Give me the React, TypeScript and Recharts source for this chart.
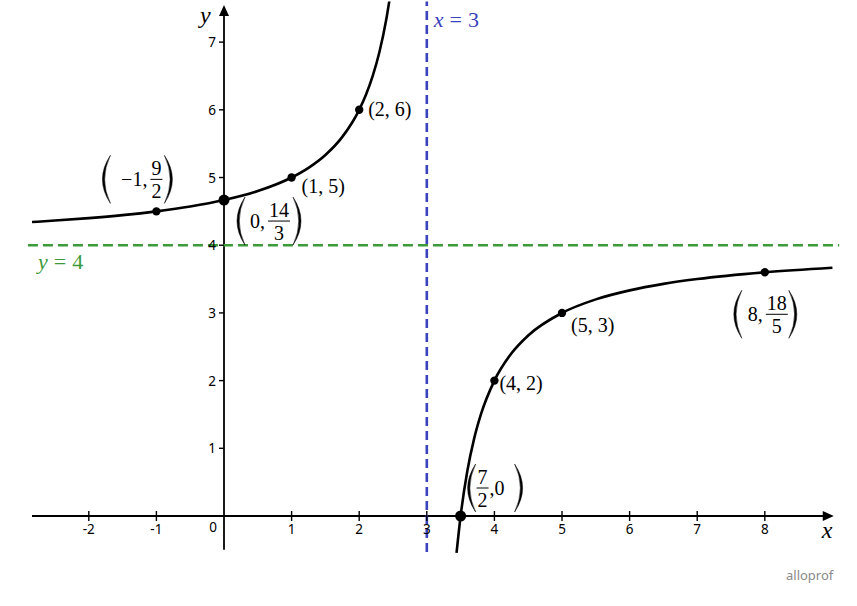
import React from 'react'
import { ComposedChart, Line, XAxis, YAxis, ReferenceLine, ReferenceDot } from 'recharts'

// curve, branch left of the asymptote x = 3
const leftX = [-2.84, -2.5, -2, -1.5, -1, -0.5, 0, 0.5, 1, 1.25, 1.5, 1.75, 2, 2.1, 2.2, 2.3, 2.4, 2.45]
const leftY = [4.342, 4.364, 4.4, 4.444, 4.5, 4.571, 4.667, 4.8, 5, 5.143, 5.333, 5.6, 6, 6.222, 6.5, 6.857, 7.333, 7.636]
// branch right of the asymptote
const rightX = [3.44, 3.5, 3.6, 3.7, 3.8, 4, 4.25, 4.5, 5, 5.5, 6, 6.5, 7, 8, 9]
const rightY = [-0.545, 0, 0.667, 1.143, 1.5, 2, 2.4, 2.667, 3, 3.2, 3.333, 3.429, 3.5, 3.6, 3.667]

// marked points
const pointX = [-1, 0, 1, 2, 3.5, 4, 5, 8]
const pointY = [4.5, 4.667, 5, 6, 0, 2, 3, 3.6]

// plain coordinate labels
const plainAt = [2, 3, 5, 6]
const plainText = ['(1, 5)', '(2, 6)', '(4, 2)', '(5, 3)']

// fraction labels
const fracAt = [0, 1, 4, 7]
const fracPrefix = ['\u22121,', '0,', '', '8,']
const fracNum = ['9', '14', '7', '18']
const fracDen = ['2', '3', '2', '5']
const fracSuffix = ['', '', ',0', '']

const xTicks = [-2, -1, 1, 2, 3, 4, 5, 6, 7, 8]
const yTicks = [1, 2, 3, 4, 5, 6, 7]

const leftData = leftX.map((x, i) => ({ x, y: leftY[i] }))
const rightData = rightX.map((x, i) => ({ x, y: rightY[i] }))

const BLUE = '#3a43bd'
const GREEN = '#3d9a3a'
const MATH = '"Liberation Serif", serif'
const SANS = '"Noto Sans", sans-serif'

// pixel offsets relative to the point
const plainLayout = [
  { dx: 10, dy: 15 },
  { dx: 9, dy: 6 },
  { dx: 5, dy: 9 },
  { dx: 9, dy: 19 },
]
const fracLayout = [
  { dx: -54, dy: -32, fx: 0, fw: 12, w: 70 },
  { dx: 13, dy: 21, fx: 55, fw: 22, w: 64 },
  { dx: 7, dy: -28, fx: 22, fw: 12, w: 55 },
  { dx: -31, dy: 42, fx: 12, fw: 22, w: 63 },
]
const bigDot = [false, true, false, false, true, false, false, false]

const paren = (x: number, c: number, h: number, dir: number) => {
  const e = x + dir * 8
  return `M${e},${c - h} Q${x - dir * 8},${c} ${e},${c + h} Q${x - dir * 3.5},${c} ${e},${c - h} Z`
}

const FracShape = (k: number) => (p: any) => {
  const L = fracLayout[k]
  const x0 = p.cx + L.dx
  const c = p.cy + L.dy
  const fc = p.cx + L.fx
  return (
    <g fontFamily={MATH} fontSize={20} fill="#000">
      <path d={paren(x0, c, 24, 1)} fill="#000" stroke="#000" strokeWidth={0.5} />
      <path d={paren(x0 + L.w, c, 24, -1)} fill="#000" stroke="#000" strokeWidth={0.5} />
      {fracPrefix[k] && <text x={fc - L.fw / 2 - 3} y={c + 7} textAnchor="end">{fracPrefix[k]}</text>}
      <text x={fc} y={c - 4} textAnchor="middle">{fracNum[k]}</text>
      <line x1={fc - L.fw / 2} x2={fc + L.fw / 2} y1={c} y2={c} stroke="#000" strokeWidth={1} />
      <text x={fc} y={c + 19} textAnchor="middle">{fracDen[k]}</text>
      {fracSuffix[k] && <text x={fc + L.fw / 2 + 1} y={c + 7}>{fracSuffix[k]}</text>}
    </g>
  )
}

const PlainShape = (k: number) => (p: any) => (
  <text x={p.cx + plainLayout[k].dx} y={p.cy + plainLayout[k].dy} fontFamily={MATH} fontSize={20} fill="#000">
    {plainText[k]}
  </text>
)

const XTick = (v: number) => (p: any) => (
  <g>
    <line x1={p.cx} x2={p.cx} y1={p.cy - 5} y2={p.cy + 5} stroke="#000" strokeWidth={1.4} />
    <text x={p.cx} y={p.cy + 18} textAnchor="middle" fontFamily={SANS} fontSize={13.5} fill="#000">{v}</text>
  </g>
)

const YTick = (v: number) => (p: any) => (
  <g>
    <line x1={p.cx - 5} x2={p.cx} y1={p.cy} y2={p.cy} stroke="#000" strokeWidth={1.4} />
    <text x={p.cx - 8} y={p.cy + 5} textAnchor="end" fontFamily={SANS} fontSize={13.5} fill="#000">{v}</text>
  </g>
)

// italic variable, "=" and value, spaced like typeset math
const Equation = (cx: number, cy: number, v: string, n: string, color: string) => (
  <text x={cx} y={cy} fontFamily={MATH} fontSize={22} fill={color}>
    <tspan fontStyle="italic">{v}</tspan>
    <tspan dx={6}>=</tspan>
    <tspan dx={6}>{n}</tspan>
  </text>
)

export default function App() {
  return (
    <div style={{ position: 'absolute', left: 0, top: 0, width: 857, height: 606, background: '#fff' }}>
      <ComposedChart width={857} height={606} margin={{ top: 1.5, right: 4.3, bottom: 22.3, left: 21.2 }}>
        <XAxis dataKey="x" type="number" domain={[-3, 9.3]} allowDataOverflow hide />
        <YAxis type="number" domain={[-1, 7.6]} allowDataOverflow hide />

        {xTicks.map((v) => (
          <ReferenceDot key={'xt' + v} x={v} y={0} r={0} shape={XTick(v)} />
        ))}
        {yTicks.map((v) => (
          <ReferenceDot key={'yt' + v} x={0} y={v} r={0} shape={YTick(v)} />
        ))}
        <ReferenceDot x={0} y={0} r={0} shape={(p: any) => (
          <text x={p.cx - 11} y={p.cy + 16} textAnchor="middle" fontFamily={SANS} fontSize={13.5} fill="#000">0</text>
        )} />

        <ReferenceLine segment={[{ x: -2.84, y: 0 }, { x: 8.95, y: 0 }]} stroke="#000" strokeWidth={1.8} />
        <ReferenceLine segment={[{ x: 0, y: -0.5 }, { x: 0, y: 7.45 }]} stroke="#000" strokeWidth={1.8} />
        <ReferenceDot x={9.02} y={0} r={0} shape={(p: any) => (
          <path d={`M${p.cx},${p.cy} L${p.cx - 11},${p.cy - 5} L${p.cx - 11},${p.cy + 5} Z`} fill="#000" />
        )} />
        <ReferenceDot x={0} y={7.55} r={0} shape={(p: any) => (
          <path d={`M${p.cx},${p.cy} L${p.cx - 5},${p.cy + 11} L${p.cx + 5},${p.cy + 11} Z`} fill="#000" />
        )} />
        <ReferenceDot x={9.02} y={0} r={0} shape={(p: any) => (
          <text x={p.cx - 12} y={p.cy + 22} fontFamily={MATH} fontStyle="italic" fontSize={24} fill="#000">x</text>
        )} />
        <ReferenceDot x={0} y={7.55} r={0} shape={(p: any) => (
          <text x={p.cx - 24} y={p.cy + 18} fontFamily={MATH} fontStyle="italic" fontSize={24} fill="#000">y</text>
        )} />

        <ReferenceLine segment={[{ x: 3, y: -0.53 }, { x: 3, y: 7.6 }]} stroke={BLUE} strokeWidth={2.6} strokeDasharray="9 5" />
        <ReferenceLine segment={[{ x: -2.9, y: 4 }, { x: 9.1, y: 4 }]} stroke={GREEN} strokeWidth={2.6} strokeDasharray="10 5" />
        <ReferenceDot x={3} y={7.5} r={0} shape={(p: any) => Equation(p.cx + 7, p.cy + 19, 'x', '3', BLUE)} />
        <ReferenceDot x={-2.84} y={4} r={0} shape={(p: any) => Equation(p.cx + 6, p.cy + 24, 'y', '4', GREEN)} />

        <Line data={leftData} dataKey="y" type="monotone" stroke="#000" strokeWidth={2.6} dot={false} activeDot={false} isAnimationActive={false} />
        <Line data={rightData} dataKey="y" type="monotone" stroke="#000" strokeWidth={2.6} dot={false} activeDot={false} isAnimationActive={false} />

        {pointX.map((x, i) => (
          <ReferenceDot key={'p' + i} x={x} y={pointY[i]} r={bigDot[i] ? 5.5 : 4.2} fill="#000" stroke="none" />
        ))}
        {plainAt.map((idx, k) => (
          <ReferenceDot key={'pl' + k} x={pointX[idx]} y={pointY[idx]} r={0} shape={PlainShape(k)} />
        ))}
        {fracAt.map((idx, k) => (
          <ReferenceDot key={'fl' + k} x={pointX[idx]} y={pointY[idx]} r={0} shape={FracShape(k)} />
        ))}
      </ComposedChart>
      <div style={{ position: 'absolute', left: 786, top: 566, fontFamily: SANS, fontSize: 13, color: '#8a8a8a' }}>alloprof</div>
    </div>
  )
}
